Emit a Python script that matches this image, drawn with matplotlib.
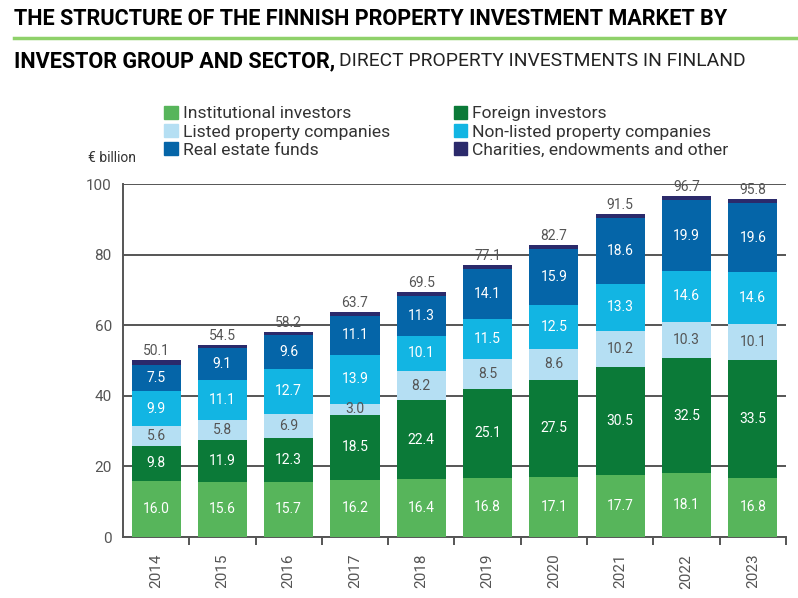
import matplotlib.pyplot as plt
from matplotlib.patches import Patch
from matplotlib.lines import Line2D
import numpy as np

years = ["2014", "2015", "2016", "2017", "2018", "2019", "2020", "2021", "2022", "2023"]
institutional = [16.0, 15.6, 15.7, 16.2, 16.4, 16.8, 17.1, 17.7, 18.1, 16.8]
foreign = [9.8, 11.9, 12.3, 18.5, 22.4, 25.1, 27.5, 30.5, 32.5, 33.5]
listed = [5.6, 5.8, 6.9, 3.0, 8.2, 8.5, 8.6, 10.2, 10.3, 10.1]
non_listed = [9.9, 11.1, 12.7, 13.9, 10.1, 11.5, 12.5, 13.3, 14.6, 14.6]
re_funds = [7.5, 9.1, 9.6, 11.1, 11.3, 14.1, 15.9, 18.6, 19.9, 19.6]
totals = [50.1, 54.5, 58.2, 63.7, 69.5, 77.1, 82.7, 91.5, 96.7, 95.8]
charities = [round(t - a - b - c - d - e, 1) for t, a, b, c, d, e in
             zip(totals, institutional, foreign, listed, non_listed, re_funds)]

series = [
    ("Institutional investors", institutional, "#57b55b", "white"),
    ("Foreign investors", foreign, "#0b7a38", "white"),
    ("Listed property companies", listed, "#b5dff3", "#555555"),
    ("Non-listed property companies", non_listed, "#12b5e3", "white"),
    ("Real estate funds", re_funds, "#0565a8", "white"),
    ("Charities, endowments and other", charities, "#2b2a6b", None),
]

plt.rcParams['font.family'] = ['Roboto', 'DejaVu Sans']
gray = "#555555"

fig = plt.figure(figsize=(7.98, 5.98), dpi=100)
ax = fig.add_axes([0.154, 0.102, 0.831, 0.590])

x = np.arange(len(years))
bottom = np.zeros(len(years))
for name, vals, col, tcol in series:
    vals = np.array(vals)
    ax.bar(x, vals, 0.74, bottom=bottom, color=col, zorder=3)
    if tcol:
        for xi, b, v in zip(x, bottom, vals):
            ax.text(xi, b + v / 2, f"{v:.1f}", ha="center", va="center",
                    color=tcol, fontsize=10, zorder=4)
    bottom += vals

for xi, t in zip(x, totals):
    ax.text(xi, t + 0.6, f"{t:.1f}", ha="center", va="bottom", color=gray,
            fontsize=10, zorder=4)

ax.set_xlim(-0.5, 9.5)
ax.set_ylim(0, 100)
ax.set_yticks([0, 20, 40, 60, 80, 100])
ax.yaxis.grid(True, color="#555555", linewidth=1.4, zorder=1)
ax.tick_params(axis="y", length=0, labelsize=11, labelcolor=gray, pad=8)
ax.set_xticks(x)
ax.set_xticklabels(years, rotation=90, fontsize=11, color=gray)
ax.tick_params(axis="x", length=0, pad=12)
ax.set_xticks(np.arange(0.5, 10, 1), minor=True)
ax.tick_params(axis="x", which="minor", length=6, width=1.4, color="#555555", direction="out")
for s in ["top", "right"]:
    ax.spines[s].set_visible(False)
for s in ["left", "bottom"]:
    ax.spines[s].set_color("#555555")
    ax.spines[s].set_linewidth(1.4)

fig.text(0.110, 0.736, "€ billion", fontsize=10, color="#333333", va="center")

handles = [Patch(color=c) for _, _, c, _ in series]
names = [n for n, _, _, _ in series]
order = [0, 2, 4, 1, 3, 5]
leg = fig.legend([handles[i] for i in order], [names[i] for i in order],
                 ncol=2, loc="upper left", bbox_to_anchor=(0.206, 0.823),
                 frameon=False, handlelength=0.75, handleheight=0.75,
                 handletextpad=0.3, labelspacing=0.16, columnspacing=3.65,
                 borderaxespad=0, borderpad=0, prop={"size": 12.6})
for t in leg.get_texts():
    t.set_color("#333333")

fig.text(0.018, 0.968, "THE STRUCTURE OF THE FINNISH PROPERTY INVESTMENT MARKET BY",
         fontsize=15.6, fontweight="bold", va="center")
fig.add_artist(Line2D([0.018, 1.0], [0.937, 0.937], color="#8fd16a", linewidth=2.5))
t1 = fig.text(0.018, 0.898, "INVESTOR GROUP AND SECTOR,", fontsize=15.6,
              fontweight="bold", va="center")
fig.canvas.draw()
bb = t1.get_window_extent()
fig.text(bb.x1 / fig.bbox.width + 0.005, 0.898, "DIRECT PROPERTY INVESTMENTS IN FINLAND",
         fontsize=13.9, va="center", color="#222222")

fig.savefig("out.png", dpi=100)
